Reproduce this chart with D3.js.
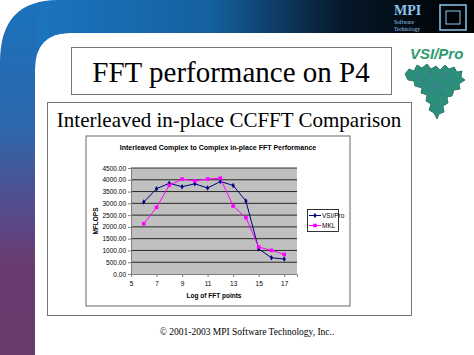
<!DOCTYPE html>
<html>
<head>
<meta charset="utf-8">
<script src="https://cdn.jsdelivr.net/npm/d3@7"></script>
<style>
body { margin: 0; background: #fff; }
svg { display: block; }
</style>
</head>
<body>
<svg id="slide" width="474" height="355"></svg>
<script>
// data
var logPoints = [6, 7, 8, 9, 10, 11, 12, 13, 14, 15, 16, 17];
var vsiPro = [3055, 3620, 3850, 3705, 3830, 3650, 3930, 3760, 3095, 1065, 690, 635];
var mkl = [2135, 2830, 3765, 4030, 3950, 4030, 4070, 2885, 2390, 1145, 1005, 830];
var yTicks = [0, 500, 1000, 1500, 2000, 2500, 3000, 3500, 4000, 4500];
var xTicks = [5, 7, 9, 11, 13, 15, 17];
var seriesNames = ["VSI/Pro", "MKL"];

var svg = d3.select("#slide");
var defs = svg.append("defs");

var topGrad = defs.append("linearGradient").attr("id", "topGrad");
topGrad.append("stop").attr("offset", "0%").attr("stop-color", "#1c74bf");
topGrad.append("stop").attr("offset", "40%").attr("stop-color", "#15609f");
topGrad.append("stop").attr("offset", "70%").attr("stop-color", "#06182a");
topGrad.append("stop").attr("offset", "100%").attr("stop-color", "#000");

var leftGrad = defs.append("linearGradient").attr("id", "leftGrad")
    .attr("x1", 0).attr("y1", 0).attr("x2", 0).attr("y2", 1);
leftGrad.append("stop").attr("offset", "0%").attr("stop-color", "#1a72bd");
leftGrad.append("stop").attr("offset", "35%").attr("stop-color", "#2c68ac");
leftGrad.append("stop").attr("offset", "60%").attr("stop-color", "#574a8a");
leftGrad.append("stop").attr("offset", "75%").attr("stop-color", "#6a3a70");
leftGrad.append("stop").attr("offset", "100%").attr("stop-color", "#6b3a6e");

// slide frame: blue curved band on the left and top
svg.append("path")
    .attr("d", "M0,62 Q0,0 58,0 L474,0 L474,33 L70,33 Q35,33 35,70 L35,355 L0,355 Z")
    .attr("fill", "url(#leftGrad)");
svg.append("path")
    .attr("d", "M58,0 L474,0 L474,33 L70,33 Q48,33 39,48 Q30,6 58,0 Z")
    .attr("fill", "url(#topGrad)");

// MPI logo
var logo = svg.append("g");
logo.append("text").attr("x", 394).attr("y", 15)
    .attr("font-family", "Liberation Serif").attr("font-weight", "bold")
    .attr("font-size", 14).attr("fill", "#8cc6ee").text("MPI");
logo.append("text").attr("x", 394).attr("y", 24)
    .attr("font-family", "Liberation Serif").attr("font-size", 5.5).attr("fill", "#9ccbec").text("Software");
logo.append("text").attr("x", 394).attr("y", 30.5)
    .attr("font-family", "Liberation Serif").attr("font-size", 5.5).attr("fill", "#9ccbec").text("Technology");
logo.append("rect").attr("x", 440).attr("y", 5).attr("width", 26).attr("height", 25)
    .attr("fill", "none").attr("stroke", "#8cc6ee").attr("stroke-width", 1.5);
logo.append("rect").attr("x", 446).attr("y", 11).attr("width", 14).attr("height", 13)
    .attr("fill", "none").attr("stroke", "#8cc6ee").attr("stroke-width", 1);

// VSI/Pro logo
svg.append("text").attr("x", 410).attr("y", 59)
    .attr("font-family", "Liberation Sans Narrow, Liberation Sans").attr("font-style", "italic")
    .attr("font-weight", "bold").attr("font-size", 15).attr("fill", "#2f9a6c").text("VSI/Pro");
svg.append("path")
    .attr("d", "M405,74 L409,69 L414,71 L417,65 L422,68 L427,64 L431,69 L436,66 L440,70 L445,65 " +
        "L449,69 L454,67 L457,72 L462,71 L461,77 L465,80 L459,84 L460,89 L454,90 L452,96 L447,97 " +
        "L448,103 L443,106 L444,112 L439,114 L437,119 L434,113 L429,110 L431,104 L426,101 L427,95 " +
        "L421,93 L422,88 L415,86 L414,81 L408,80 Z")
    .attr("fill", "#2c8f7c").attr("stroke", "#1d6a5a").attr("stroke-width", 0.8);
var blobs = [[418, 76, 2.5], [430, 74, 3], [445, 75, 3], [452, 81, 2.5], [437, 85, 3.5], [428, 88, 2.5],
    [442, 94, 2.5], [437, 104, 2], [424, 80, 2], [448, 86, 2]];
svg.append("g").selectAll("circle").data(blobs).join("circle")
    .attr("cx", d => d[0]).attr("cy", d => d[1]).attr("r", d => d[2])
    .attr("fill", "#3a7f8a").attr("opacity", 0.8);

// title box
svg.append("rect").attr("x", 71.5).attr("y", 47.5).attr("width", 320).attr("height", 47)
    .attr("fill", "#fff").attr("stroke", "#777");
svg.append("text").attr("x", 231).attr("y", 82).attr("text-anchor", "middle")
    .attr("font-family", "Liberation Serif").attr("font-size", 29).attr("fill", "#000")
    .text("FFT performance on P4");

// subtitle box
svg.append("rect").attr("x", 47.5).attr("y", 102.5).attr("width", 364).attr("height", 213)
    .attr("fill", "#fff").attr("stroke", "#777");
svg.append("text").attr("x", 229).attr("y", 127).attr("text-anchor", "middle")
    .attr("font-family", "Liberation Serif").attr("font-size", 21).attr("fill", "#000")
    .text("Interleaved in-place CCFFT Comparison");

// chart box
svg.append("rect").attr("x", 86).attr("y", 136).attr("width", 264).attr("height", 170)
    .attr("fill", "#fff").attr("stroke", "#666").attr("stroke-width", 1);

var chartFont = "Liberation Sans, Arial, sans-serif";
svg.append("text").attr("x", 218).attr("y", 149.5).attr("text-anchor", "middle")
    .attr("font-family", chartFont).attr("font-weight", "bold").attr("font-size", 7)
    .text("Interleaved Complex to Complex in-place FFT Performance");

var x = d3.scaleLinear().domain([5, 18]).range([131, 297]);
var y = d3.scaleLinear().domain([0, 4500]).range([274, 168]);

svg.append("rect").attr("x", x(5)).attr("y", y(4500))
    .attr("width", x(18) - x(5)).attr("height", y(0) - y(4500)).attr("fill", "#c0c0c0");

svg.append("g").selectAll("line").data(yTicks.slice(1)).join("line")
    .attr("x1", x(5)).attr("x2", x(18))
    .attr("y1", d => y(d)).attr("y2", d => y(d))
    .attr("stroke", "#000").attr("stroke-width", 0.8);

var yAxis = svg.append("g").attr("transform", "translate(" + x(5) + ",0)")
    .call(d3.axisLeft(y).tickValues(yTicks).tickFormat(d3.format(".2f")).tickSize(3).tickPadding(2));
var xAxis = svg.append("g").attr("transform", "translate(0," + y(0) + ")")
    .call(d3.axisBottom(x).tickValues(xTicks).tickFormat(d3.format("d")).tickSize(3).tickPadding(4));
[yAxis, xAxis].forEach(function(a) {
    a.select(".domain").attr("stroke", "#808080");
    a.selectAll(".tick line").attr("stroke", "#808080");
    a.selectAll("text").attr("font-family", chartFont).attr("font-size", 6.5).attr("fill", "#000");
});

svg.append("text").attr("x", 214).attr("y", 297.5).attr("text-anchor", "middle")
    .attr("font-family", chartFont).attr("font-weight", "bold").attr("font-size", 6.5)
    .text("Log of FFT points");
svg.append("text").attr("transform", "translate(98,221) rotate(-90)").attr("text-anchor", "middle")
    .attr("font-family", chartFont).attr("font-weight", "bold").attr("font-size", 6.5)
    .text("MFLOPS");

var colors = ["#000080", "#ff00ff"];
var series = [vsiPro, mkl];
var line = d3.line().x((d, i) => x(logPoints[i])).y(d => y(d));

function marker(g, k, cx, cy) {
    if (k === 0) {
        g.append("path").attr("d", d3.symbol(d3.symbolDiamond, 9)())
            .attr("transform", "translate(" + cx + "," + cy + ")").attr("fill", colors[k]);
    } else {
        g.append("rect").attr("x", cx - 1.8).attr("y", cy - 1.8).attr("width", 3.6).attr("height", 3.6)
            .attr("fill", colors[k]);
    }
}

series.forEach(function(vals, k) {
    svg.append("path").datum(vals).attr("d", line)
        .attr("fill", "none").attr("stroke", colors[k]).attr("stroke-width", 1);
    var g = svg.append("g");
    vals.forEach(function(v, i) { marker(g, k, x(logPoints[i]), y(v)); });
});

// legend
svg.append("rect").attr("x", 307.5).attr("y", 209.5).attr("width", 31).attr("height", 22)
    .attr("fill", "#fff").attr("stroke", "#000").attr("stroke-width", 0.8);
seriesNames.forEach(function(name, k) {
    var ly = 215.5 + k * 10;
    var lg = svg.append("g");
    lg.append("line").attr("x1", 309).attr("x2", 321).attr("y1", ly).attr("y2", ly)
        .attr("stroke", colors[k]).attr("stroke-width", 1);
    marker(lg, k, 315, ly);
    lg.append("text").attr("x", 322).attr("y", ly + 2.3)
        .attr("font-family", chartFont).attr("font-size", 6.5).text(name);
});

// footer
svg.append("text").attr("x", 247).attr("y", 335).attr("text-anchor", "middle")
    .attr("font-family", "Liberation Serif").attr("font-size", 9.5).attr("fill", "#000")
    .text("\u00a9 2001-2003 MPI Software Technology, Inc..");
</script>
</body>
</html>
